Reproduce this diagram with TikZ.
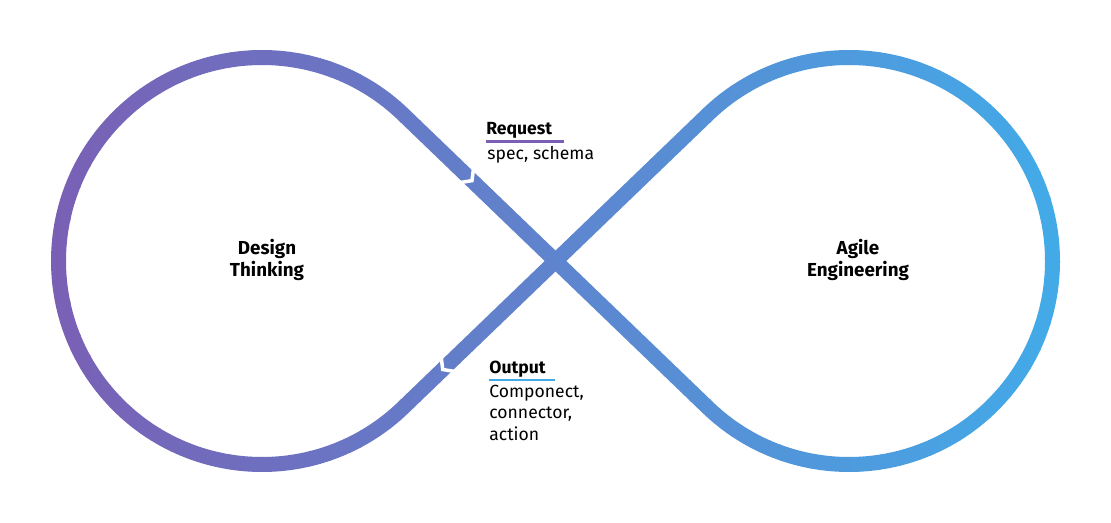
\documentclass[tikz,border=0pt]{standalone}
\usepackage{fontspec}
\setmainfont{Fira Sans}
\usepackage{tikz}
\usetikzlibrary{calc}

\definecolor{loopviolet}{RGB}{122,95,180}
\definecolor{loopblue}{RGB}{67,170,232}

\newcommand\infinitypath{(tlu) -- (trd) arc[start angle=133.9, end angle=-133.9, radius=203.5]
  -- (tld) arc[start angle=46.1, end angle=313.9, radius=203.5] -- cycle}

\begin{document}
\begin{tikzpicture}[x=0.02cm, y=-0.02cm,
    band/.style={line width=0.3cm},
    notch/.style={white, line width=0.07cm},
    title/.style={font=\bfseries\fontsize{10.7}{13}\selectfont, align=center, inner sep=0},
    tag/.style={font=\bfseries\fontsize{10}{12}\selectfont, inner sep=0},
    note/.style={font=\fontsize{10}{12}\selectfont, align=left, inner sep=0}]
      \fill[white] (0,0) rectangle (1111,523);
      \useasboundingbox (0,0) rectangle (1111,523);

      \coordinate (cl) at (262,261);
      \coordinate (cr) at (849,261);
      \coordinate (cross) at (555.5,261);
      \coordinate (tlu) at ($(cl)+(-46.1:203.5)$);
      \coordinate (tld) at ($(cl)+(46.1:203.5)$);
      \coordinate (trd) at ($(cr)+(133.9:203.5)$);

      % gradient band, one strip at a time
      \foreach \i in {0,...,111} {
        \pgfmathtruncatemacro\mix{max(0,min(100,(1055-\i*10)/1009*100))}
        \begin{scope}
          \clip (\i*10,0) rectangle (\i*10+10.6,523);
          \draw[band, draw=loopviolet!\mix!loopblue] \infinitypath;
        \end{scope}
      }

      \coordinate (nreq) at ($(tlu)!0.452!(cross)$);
      \coordinate (nout) at ($(cross)!0.74!(tld)$);
      \begin{scope}[shift={(nreq)}, rotate=-43.9]
        \draw[notch] (-9,-12) -- (0,0) -- (-9,12);
      \end{scope}
      \begin{scope}[shift={(nout)}, rotate=-136.1]
        \draw[notch] (-9,-12) -- (0,0) -- (-9,12);
      \end{scope}

      \node[title] (design) at (267,260) {Design\\Thinking};
      \node[title] (agile) at (858,260) {Agile\\Engineering};

      \node[tag, anchor=base west] (req) at (486,135) {Request};
      \draw[loopviolet, line width=0.06cm] ([yshift=-0.14cm]req.base west) -- ++(78,0);
      \node[note, anchor=base west] (spec) at (487,160) {spec, schema};

      \node[tag, anchor=base west] (out) at (489,373) {Output};
      \draw[loopblue, line width=0.06cm] ([yshift=-0.14cm]out.base west) -- ++(66,0);
      \node[note, anchor=base west] (outnote) at (489,440) {Componect,\\connector,\\action};
\end{tikzpicture}
\end{document}
